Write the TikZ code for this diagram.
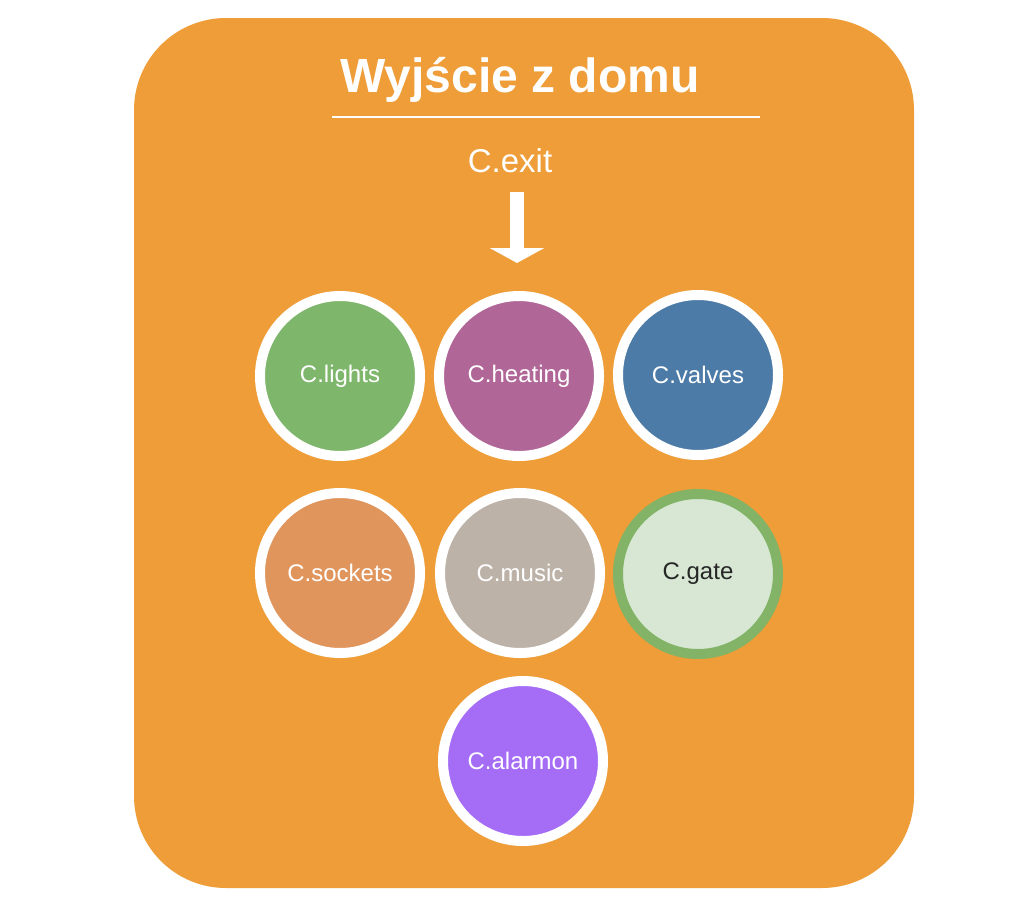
\documentclass[tikz,border=0pt]{standalone}
\usepackage{fontspec}
\setmainfont{Liberation Sans}
\usepackage{tikz}
\usetikzlibrary{calc,arrows.meta}
\definecolor{boxorange}{HTML}{EE9D38}
\definecolor{clights}{HTML}{7EB66B}
\definecolor{cheating}{HTML}{B06697}
\definecolor{cvalves}{HTML}{4D7BA7}
\definecolor{csockets}{HTML}{E0955C}
\definecolor{cmusic}{HTML}{BCB2A8}
\definecolor{cgate}{HTML}{D7E7D4}
\definecolor{cgateline}{HTML}{82B366}
\definecolor{calarmon}{HTML}{A56CF5}
\tikzset{
  ctrl/.style={circle,draw=white,line width=10pt,minimum size=160pt,inner sep=0pt,
    text=white,font=\fontsize{24}{26}\selectfont}
}
\begin{document}
\begin{tikzpicture}[x=1pt,y=-1pt]
                      \useasboundingbox[fill=white] (0,0) rectangle (1024,913);
                      \fill[boxorange,rounded corners=92pt] (134,18) rectangle (914,888);
                      \node[anchor=base,text=white,font=\fontsize{48}{50}\selectfont\bfseries](title)at(520,92){Wyjście z domu};
                      \draw[white,line width=2.5pt] (332,117) -- (760,117);
                      \node[text=white,inner sep=0pt,font=\fontsize{33}{35}\selectfont](exit)at(510,161){C.exit};
                      \coordinate (tip) at (517,263);
                      \draw[white,line width=14pt,-{Triangle[width=54pt,length=15pt]},shorten <=19pt] (exit.south -| tip) -- (tip);
                      \node[ctrl,fill=clights](lights)at(340,376){C.lights};
                      \node[ctrl,fill=cheating](heating)at(519,376){C.heating};
                      \node[ctrl,fill=cvalves](valves)at(698,375){C.valves};
                      \node[ctrl,fill=csockets](sockets)at(340,573){C.sockets};
                      \node[ctrl,fill=cmusic](music)at(520,573){C.music};
                      \node[ctrl,fill=cgate,draw=cgateline,text=black!85](gate)at(698,574){C.gate};
                      \node[ctrl,fill=calarmon](alarmon)at(523,761){C.alarmon};
                  \end{tikzpicture}
\end{document}
